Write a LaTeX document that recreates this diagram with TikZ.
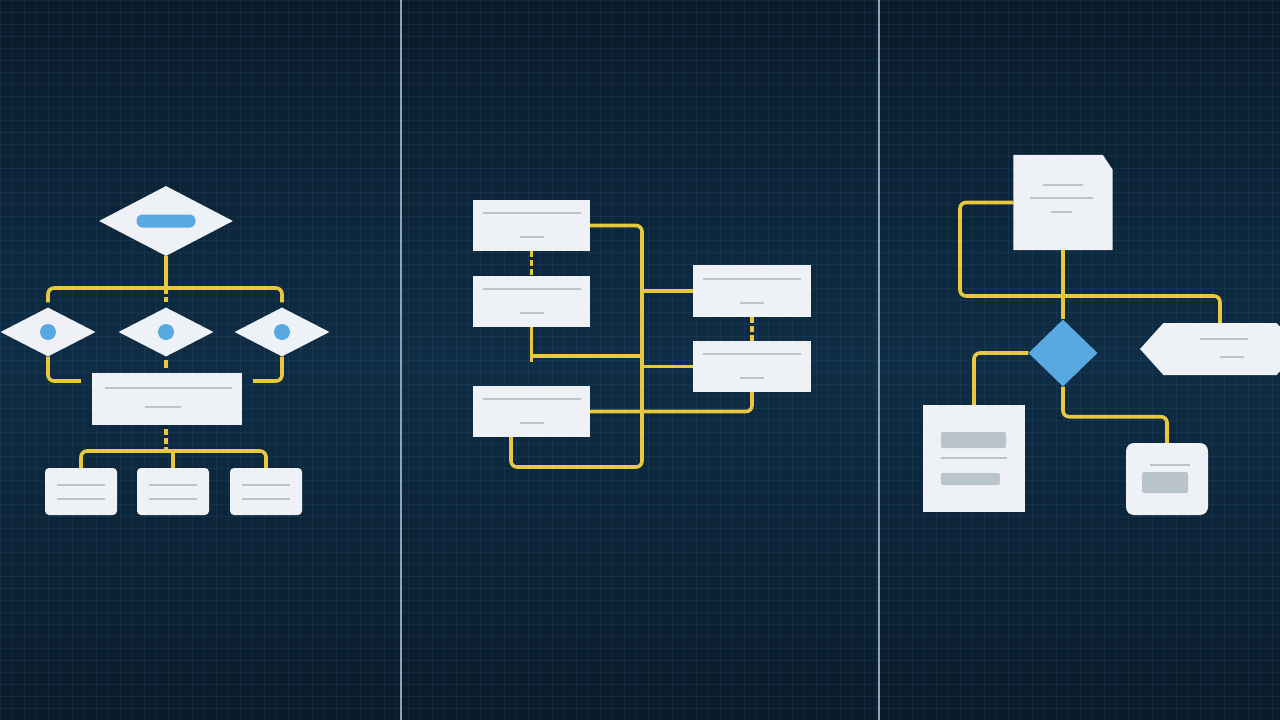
\documentclass[tikz,border=0pt]{standalone}
\usetikzlibrary{shapes.geometric, shapes.symbols}

\definecolor{bgtop}{HTML}{0A1B2A}
\definecolor{bgmid}{HTML}{0F2D45}
\definecolor{gridc}{HTML}{3A6688}
\definecolor{divider}{HTML}{8EA3B4}
\definecolor{wirec}{HTML}{E8C83C}
\definecolor{cardc}{HTML}{EEF2F6}
\definecolor{barc}{HTML}{B9C4CC}
\definecolor{accent}{HTML}{58A8E2}

\tikzset{
  wire/.style={line width=3.6pt, wirec, rounded corners=6pt},
  broken/.style={dash pattern=on 6pt off 3pt},
  card/.style={rectangle, fill=cardc, inner sep=0pt},
  rcard/.style={card, rounded corners=4pt},
  choice/.style={diamond, fill=cardc, inner sep=0pt},
  textline/.style={line width=2.6pt, barc},
  textbar/.style={barc, rounded corners=2pt}
}

\begin{document}
\begin{tikzpicture}[x=1pt, y=-1pt]

	% parameters
	\def\W{1280}         % picture width
	\def\H{720}          % picture height
	\def\dot{8}          % radius of the blue dots

	\useasboundingbox (0,0) rectangle (\W,\H);
	\clip (0,0) rectangle (\W,\H);

	% background and grid
	\shade[top color=bgtop, bottom color=bgtop, middle color=bgmid] (0,0) rectangle (\W,\H);
	\foreach \gx in {0,12,...,1280}
		\draw[gridc, line width=0.5pt, opacity=0.18] (\gx,0) -- (\gx,\H);
	\foreach \gy in {0,12,...,720}
		\draw[gridc, line width=0.5pt, opacity=0.18] (0,\gy) -- (\W,\gy);

	% panel dividers
	\draw[divider, line width=1.2pt] (401,0) -- (401,\H);
	\draw[divider, line width=1.2pt] (879,0) -- (879,\H);

	% ---------- left panel ----------
	\node[choice, minimum width=134pt, minimum height=70pt] (top) at (166,221) {};
	\node[fill=accent, rounded corners=6pt, minimum width=59pt, minimum height=13pt, inner sep=0pt] (pill) at (166,221) {};

	\node[choice, minimum width=95pt, minimum height=49pt] (d1) at (48,332) {};
	\node[choice, minimum width=95pt, minimum height=49pt] (d2) at (166,332) {};
	\node[choice, minimum width=95pt, minimum height=49pt] (d3) at (282,332) {};
	\foreach \d in {d1,d2,d3}
		\fill[accent] (\d.center) circle (\dot);

	\node[card, minimum width=150pt, minimum height=52pt] (mid) at (167,399) {};
	\draw[textline] (105,388) -- (232,388);
	\draw[textline] (145,407) -- (181,407);

	\node[rcard, minimum width=72pt, minimum height=47pt] (b1) at (81,491.5) {};
	\node[rcard, minimum width=72pt, minimum height=47pt] (b2) at (173,491.5) {};
	\node[rcard, minimum width=72pt, minimum height=47pt] (b3) at (266,491.5) {};
	\foreach \b in {b1,b2,b3} {
		\draw[textline] ([xshift=-24pt,yshift=6.5pt]\b.center) -- ([xshift=24pt,yshift=6.5pt]\b.center);
		\draw[textline] ([xshift=-24pt,yshift=-7.5pt]\b.center) -- ([xshift=24pt,yshift=-7.5pt]\b.center);
	}

	% left panel connectors
	\coordinate (bus1) at (166,288);
	\coordinate (bus2) at (166,451);
	\draw[wire] (top.south) -- (bus1);
	\draw[wire] ([yshift=5pt]d1.north) |- (bus1) -| ([yshift=5pt]d3.north);
	\draw[wire, broken] (bus1) -- ([yshift=5pt]d2.north);
	\draw[wire] (d1.south) |- ([xshift=-11pt,yshift=18pt]mid.west);
	\draw[wire] (d3.south) |- ([xshift=11pt,yshift=18pt]mid.east);
	\draw[wire] ([yshift=-3pt]d2.south) -- ([yshift=5pt]mid.north -| bus1);
	\draw[wire, broken] ([yshift=-4pt]mid.south -| bus2) -- (bus2);
	\draw[wire] (b1.north) |- (bus2) -| (b3.north);
	\draw[wire] (b2.north) -- (b2.north |- bus2);

	% ---------- middle panel ----------
	\node[card, minimum width=117pt, minimum height=51pt] (A) at (531.5,225.5) {};
	\node[card, minimum width=117pt, minimum height=51pt] (B) at (531.5,301.5) {};
	\node[card, minimum width=117pt, minimum height=51pt] (C) at (531.5,411.5) {};
	\node[card, minimum width=118pt, minimum height=52pt] (D) at (752,291) {};
	\node[card, minimum width=118pt, minimum height=51pt] (E) at (752,366.5) {};
	\foreach \b in {A,B,C,D,E} {
		\draw[textline, line width=2pt] ([xshift=-49pt,yshift=12.5pt]\b.center) -- ([xshift=49pt,yshift=12.5pt]\b.center);
		\draw[textline, line width=2pt] ([xshift=-12pt,yshift=-11.5pt]\b.center) -- ([xshift=12pt,yshift=-11.5pt]\b.center);
	}

	% middle panel connectors
	\coordinate (tb) at (642,467);
	\draw[wire] (A.east) -| (tb) -| ([xshift=-20.5pt]C.south);
	\draw[wire, broken] (A.south) -- (B.north);
	\draw[wire] (B.south) -- ++(0,35);
	\draw[wire] ([yshift=-29pt]B.south) -- ([yshift=-29pt]B.south -| tb);
	\draw[wire] (D.west) -- (D.west -| tb);
	\draw[wire] (E.west) -- (E.west -| tb);
	\draw[wire, broken] (D.south) -- (E.north);
	\draw[wire] (C.east) -| (E.south);

	% ---------- right panel ----------
	\node[minimum width=99pt, minimum height=95pt, inner sep=0pt] (doc) at (1063,202.5) {};
	\fill[cardc] (doc.north west) -- ([xshift=-10pt]doc.north east) -- ([yshift=-15pt]doc.north east)
		-- (doc.south east) -- (doc.south west) -- cycle;
	\draw[textline] (1043,185) -- (1083,185);
	\draw[textline] (1030,198) -- (1093,198);
	\draw[textline] (1051,212) -- (1072,212);

	\node[diamond, fill=accent, inner sep=0pt, minimum width=69pt, minimum height=67pt] (dia) at (1063,353) {};

	\node[signal, signal to=west and east, signal pointer angle=96, fill=cardc, inner sep=0pt,
		minimum width=160pt, minimum height=52pt] (hex) at (1220,349) {};
	\draw[textline] (1200,339) -- (1248,339);
	\draw[textline] (1220,357) -- (1244,357);

	\node[card, minimum width=102pt, minimum height=107pt] (L) at (974,458.5) {};
	\fill[textbar] (941,432) rectangle (1006,448);
	\draw[textline] (941,458) -- (1007,458);
	\fill[textbar] (941,473) rectangle (1000,485);

	\node[card, rounded corners=8pt, minimum width=82pt, minimum height=72pt] (S) at (1167,479) {};
	\draw[textline] (1150,465) -- (1190,465);
	\fill[textbar] (1142,472) rectangle (1188,493);

	% right panel connectors
	\coordinate (bus3) at (960,296);
	\draw[wire] (doc.west) -| (bus3) -| (hex.north);
	\draw[wire] (doc.south) -- (dia.north);
	\draw[wire] (dia.west) -| (L.north);
	\draw[wire] (dia.south) -- ++(0,30) -| (S.north);

\end{tikzpicture}
\end{document}
